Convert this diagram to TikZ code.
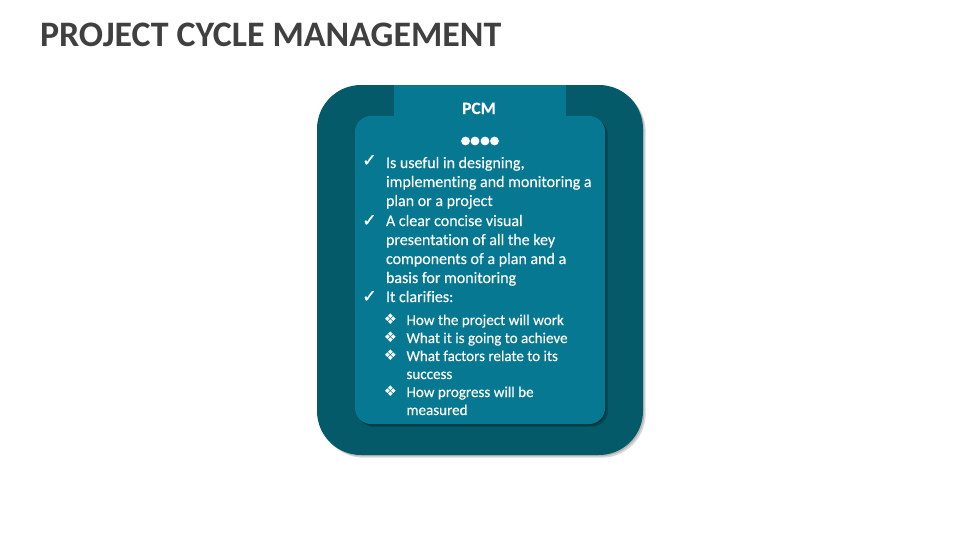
\documentclass[tikz,border=0pt]{standalone}
\usepackage{fontspec}
\setmainfont[Ligatures=NoCommon, FakeBold=0.25]{Carlito}
\newfontfamily\titlefont[Ligatures=NoCommon]{Carlito}
\newfontfamily\symfont{DejaVu Sans}
\newfontfamily\tickfont[FakeBold=1]{DejaVu Sans}
\usetikzlibrary{shadows}
\definecolor{pcmdark}{RGB}{4,90,105}
\definecolor{pcmlight}{RGB}{7,120,146}
\definecolor{titlegray}{RGB}{64,64,64}
\begin{document}
\begin{tikzpicture}[x=.75pt, y=-.75pt]
\tikzset{
	every node/.style = {inner sep=0pt, outer sep=0pt, text=white},
	mainline/.style = {anchor=base west, font=\fontsize{12}{14}\selectfont},
	subline/.style = {anchor=base west, font=\fontsize{11.3}{13}\selectfont},
	tick/.style = {anchor=base, font=\tickfont\fontsize{13}{15}\selectfont},
	diam/.style = {anchor=base, font=\symfont\fontsize{11}{13}\selectfont},
	dot/.style = {circle, fill=white, minimum size=6.6pt},
	softshadow/.style = {
		drop shadow={fill=black, shadow xshift=2pt, shadow yshift=-2pt, opacity=#1},
		drop shadow={fill=black, shadow xshift=1pt, shadow yshift=-1pt, opacity=#1}}
}
\useasboundingbox (0,0) rectangle (960,540);
\node[anchor=base west, text=titlegray, font=\titlefont\fontsize{26.9}{32}\selectfont\bfseries] (title) at (40,46) {PROJECT CYCLE MANAGEMENT};
\fill[pcmdark, rounded corners=33pt, softshadow=.15] (317,85) rectangle (643,455);
\fill[pcmlight, rounded corners=12pt, softshadow=.22] (355,116) rectangle (605,424);
\fill[pcmlight] (394,85) rectangle (566,130);
\node[anchor=base, font=\fontsize{13}{15}\selectfont\bfseries] (pcm) at (479,114) {PCM};
\foreach \x/\name in {465.5/d1, 475/d2, 485/d3, 494.5/d4}
	\node[dot] (\name) at (\x,141) {};
\foreach \y/\txt [count=\i] in {
	168/{Is useful in designing,},
	187/{implementing and monitoring a},
	206/{plan or a project},
	226/{A clear concise visual},
	245/{presentation of all the key},
	264/{components of a plan and a},
	283/{basis for monitoring},
	302/{It clarifies:}}
	\node[mainline] (line\i) at (386,\y) {\txt};
\foreach \y/\txt [count=\i] in {
	325/{How the project will work},
	343/{What it is going to achieve},
	361/{What factors relate to its},
	379/{success},
	397/{How progress will be},
	415/{measured}}
	\node[subline] (sub\i) at (406.5,\y) {\txt};
\foreach \y [count=\i] in {166,226,302}
	\node[tick] (tick\i) at (369.5,\y) {✓};
\foreach \y [count=\i] in {324,342,360,396}
	\node[diam] (diam\i) at (390.5,\y) {❖};
\end{tikzpicture}
\end{document}
